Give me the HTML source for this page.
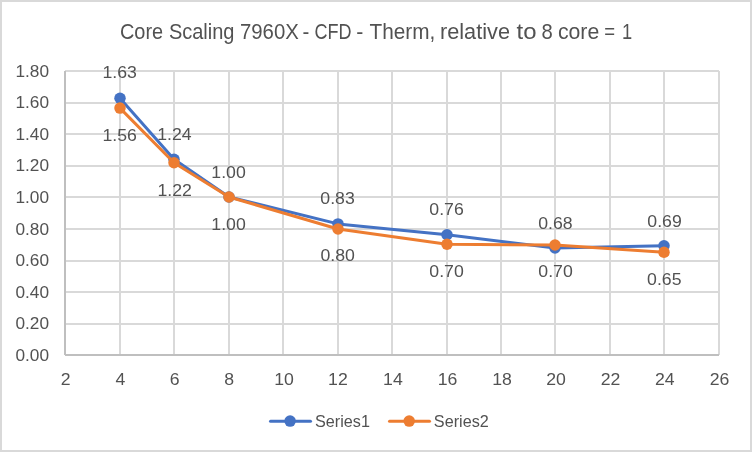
<!DOCTYPE html>
<html lang="en"><head><meta charset="utf-8"><title>Core Scaling 7960X - CFD - Therm</title>
<style>
html,body{margin:0;padding:0;background:#fff;}
body{width:752px;height:452px;overflow:hidden;}
svg{display:block;position:absolute;left:0;top:0;}
text{font-family:"Liberation Sans",sans-serif;fill:#525252;font-kerning:none;white-space:pre;}
</style></head><body>
<svg width="752" height="452" viewBox="0 0 752 452">
<rect x="0" y="0" width="752" height="452" fill="#ffffff"/>
<rect x="1" y="1" width="750" height="450" fill="none" stroke="#d9d9d9" stroke-width="2"/>
<g stroke="#d9d9d9" stroke-width="2" fill="none">
<line x1="65" y1="324" x2="719" y2="324"/>
<line x1="65" y1="292" x2="719" y2="292"/>
<line x1="65" y1="261" x2="719" y2="261"/>
<line x1="65" y1="229" x2="719" y2="229"/>
<line x1="65" y1="197" x2="719" y2="197"/>
<line x1="65" y1="166" x2="719" y2="166"/>
<line x1="65" y1="134" x2="719" y2="134"/>
<line x1="65" y1="103" x2="719" y2="103"/>
<line x1="65" y1="71" x2="719" y2="71"/>
<line x1="120" y1="71" x2="120" y2="355"/>
<line x1="174" y1="71" x2="174" y2="355"/>
<line x1="229" y1="71" x2="229" y2="355"/>
<line x1="283" y1="71" x2="283" y2="355"/>
<line x1="338" y1="71" x2="338" y2="355"/>
<line x1="392" y1="71" x2="392" y2="355"/>
<line x1="447" y1="71" x2="447" y2="355"/>
<line x1="501" y1="71" x2="501" y2="355"/>
<line x1="555" y1="71" x2="555" y2="355"/>
<line x1="610" y1="71" x2="610" y2="355"/>
<line x1="664" y1="71" x2="664" y2="355"/>
<line x1="719" y1="71" x2="719" y2="355"/>
</g>
<g stroke="#bfbfbf" stroke-width="2" fill="none">
<line x1="65" y1="71" x2="65" y2="355"/>
<line x1="65" y1="355" x2="719" y2="355"/>
</g>
<polyline points="120,98.2 174,159.2 229,197 338,223.9 447,234.8 555,248.0 664,245.8" fill="none" stroke="#4472c4" stroke-width="3" stroke-linecap="round" stroke-linejoin="round"/>
<circle cx="120" cy="98.2" r="5.75" fill="#4472c4"/>
<circle cx="174" cy="159.2" r="5.75" fill="#4472c4"/>
<circle cx="229" cy="197" r="5.75" fill="#4472c4"/>
<circle cx="338" cy="223.9" r="5.75" fill="#4472c4"/>
<circle cx="447" cy="234.8" r="5.75" fill="#4472c4"/>
<circle cx="555" cy="248.0" r="5.75" fill="#4472c4"/>
<circle cx="664" cy="245.8" r="5.75" fill="#4472c4"/>
<polyline points="120,108.1 174,162.7 229,197 338,229.0 447,244.3 555,245.0 664,252.3" fill="none" stroke="#ed7d31" stroke-width="3" stroke-linecap="round" stroke-linejoin="round"/>
<circle cx="120" cy="108.1" r="5.75" fill="#ed7d31"/>
<circle cx="174" cy="162.7" r="5.75" fill="#ed7d31"/>
<circle cx="229" cy="197" r="5.75" fill="#ed7d31"/>
<circle cx="338" cy="229.0" r="5.75" fill="#ed7d31"/>
<circle cx="447" cy="244.3" r="5.75" fill="#ed7d31"/>
<circle cx="555" cy="245.0" r="5.75" fill="#ed7d31"/>
<circle cx="664" cy="252.3" r="5.75" fill="#ed7d31"/>
<g>
<text x="119.99" y="38.50" font-size="21.3" textLength="43.20" lengthAdjust="spacingAndGlyphs">Core</text>
<text x="168.89" y="38.50" font-size="21.3" textLength="65.60" lengthAdjust="spacingAndGlyphs">Scaling</text>
<text x="239.96" y="38.50" font-size="21.3" textLength="58.87" lengthAdjust="spacingAndGlyphs">7960X</text>
<text x="302.49" y="38.50" font-size="21.3" textLength="6.82" lengthAdjust="spacingAndGlyphs">-</text>
<text x="314.48" y="38.50" font-size="21.3" textLength="37.08" lengthAdjust="spacingAndGlyphs">CFD</text>
<text x="356.35" y="38.50" font-size="21.3" textLength="7.09" lengthAdjust="spacingAndGlyphs">-</text>
<text x="369.53" y="38.50" font-size="21.3" textLength="65.73" lengthAdjust="spacingAndGlyphs">Therm,</text>
<text x="439.96" y="38.50" font-size="21.3" textLength="70.01" lengthAdjust="spacingAndGlyphs">relative</text>
<text x="516.54" y="38.50" font-size="21.3" textLength="19.97" lengthAdjust="spacingAndGlyphs">to</text>
<text x="541.42" y="38.50" font-size="21.3" textLength="11.26" lengthAdjust="spacingAndGlyphs">8</text>
<text x="557.90" y="38.50" font-size="21.3" textLength="41.35" lengthAdjust="spacingAndGlyphs">core</text>
<text x="604.20" y="38.50" font-size="21.3" textLength="10.82" lengthAdjust="spacingAndGlyphs">=</text>
<text x="621.90" y="38.50" font-size="21.3" textLength="10.19" lengthAdjust="spacingAndGlyphs">1</text>
</g>
<g>
<text x="15.49" y="361.00" font-size="17" textLength="33.58" lengthAdjust="spacingAndGlyphs">0.00</text>
<text x="15.49" y="329.00" font-size="17" textLength="33.58" lengthAdjust="spacingAndGlyphs">0.20</text>
<text x="15.49" y="298.00" font-size="17" textLength="33.58" lengthAdjust="spacingAndGlyphs">0.40</text>
<text x="15.49" y="266.00" font-size="17" textLength="33.58" lengthAdjust="spacingAndGlyphs">0.60</text>
<text x="15.49" y="235.00" font-size="17" textLength="33.58" lengthAdjust="spacingAndGlyphs">0.80</text>
<text x="15.49" y="203.00" font-size="17" textLength="33.58" lengthAdjust="spacingAndGlyphs">1.00</text>
<text x="15.49" y="171.00" font-size="17" textLength="33.58" lengthAdjust="spacingAndGlyphs">1.20</text>
<text x="15.49" y="140.00" font-size="17" textLength="33.58" lengthAdjust="spacingAndGlyphs">1.40</text>
<text x="15.49" y="108.00" font-size="17" textLength="33.58" lengthAdjust="spacingAndGlyphs">1.60</text>
<text x="15.49" y="77.00" font-size="17" textLength="33.58" lengthAdjust="spacingAndGlyphs">1.80</text>
</g>
<g>
<text x="60.88" y="385.00" font-size="17" textLength="9.83" lengthAdjust="spacingAndGlyphs">2</text>
<text x="115.42" y="385.00" font-size="17" textLength="9.83" lengthAdjust="spacingAndGlyphs">4</text>
<text x="169.78" y="385.00" font-size="17" textLength="9.83" lengthAdjust="spacingAndGlyphs">6</text>
<text x="224.32" y="385.00" font-size="17" textLength="9.83" lengthAdjust="spacingAndGlyphs">8</text>
<text x="274.26" y="385.00" font-size="17" textLength="19.67" lengthAdjust="spacingAndGlyphs">10</text>
<text x="328.14" y="385.00" font-size="17" textLength="19.67" lengthAdjust="spacingAndGlyphs">12</text>
<text x="383.13" y="385.00" font-size="17" textLength="19.67" lengthAdjust="spacingAndGlyphs">14</text>
<text x="437.74" y="385.00" font-size="17" textLength="19.67" lengthAdjust="spacingAndGlyphs">16</text>
<text x="492.22" y="385.00" font-size="17" textLength="19.67" lengthAdjust="spacingAndGlyphs">18</text>
<text x="546.19" y="385.00" font-size="17" textLength="19.67" lengthAdjust="spacingAndGlyphs">20</text>
<text x="600.77" y="385.00" font-size="17" textLength="19.67" lengthAdjust="spacingAndGlyphs">22</text>
<text x="655.06" y="385.00" font-size="17" textLength="19.67" lengthAdjust="spacingAndGlyphs">24</text>
<text x="709.67" y="385.00" font-size="17" textLength="19.67" lengthAdjust="spacingAndGlyphs">26</text>
</g>
<g>
<text x="102.46" y="78.00" font-size="17" textLength="34.41" lengthAdjust="spacingAndGlyphs">1.63</text>
<text x="157.28" y="140.00" font-size="17" textLength="34.41" lengthAdjust="spacingAndGlyphs">1.24</text>
<text x="211.37" y="178.00" font-size="17" textLength="34.41" lengthAdjust="spacingAndGlyphs">1.00</text>
<text x="320.39" y="204.00" font-size="17" textLength="34.41" lengthAdjust="spacingAndGlyphs">0.83</text>
<text x="429.34" y="215.00" font-size="17" textLength="34.41" lengthAdjust="spacingAndGlyphs">0.76</text>
<text x="538.23" y="229.00" font-size="17" textLength="34.41" lengthAdjust="spacingAndGlyphs">0.68</text>
<text x="647.37" y="227.00" font-size="17" textLength="34.41" lengthAdjust="spacingAndGlyphs">0.69</text>
<text x="102.41" y="141.00" font-size="17" textLength="34.41" lengthAdjust="spacingAndGlyphs">1.56</text>
<text x="157.47" y="196.00" font-size="17" textLength="34.41" lengthAdjust="spacingAndGlyphs">1.22</text>
<text x="211.37" y="230.00" font-size="17" textLength="34.41" lengthAdjust="spacingAndGlyphs">1.00</text>
<text x="320.49" y="261.00" font-size="17" textLength="34.41" lengthAdjust="spacingAndGlyphs">0.80</text>
<text x="429.39" y="277.00" font-size="17" textLength="34.41" lengthAdjust="spacingAndGlyphs">0.70</text>
<text x="538.34" y="277.00" font-size="17" textLength="34.41" lengthAdjust="spacingAndGlyphs">0.70</text>
<text x="647.12" y="285.00" font-size="17" textLength="34.41" lengthAdjust="spacingAndGlyphs">0.65</text>
</g>
<line x1="270.5" y1="421.3" x2="310.5" y2="421.3" stroke="#4472c4" stroke-width="3" stroke-linecap="round"/>
<circle cx="290.1" cy="421.1" r="5.75" fill="#4472c4"/>
<line x1="389.5" y1="421.3" x2="429.5" y2="421.3" stroke="#ed7d31" stroke-width="3" stroke-linecap="round"/>
<circle cx="409.2" cy="421.1" r="5.75" fill="#ed7d31"/>
<text x="315.06" y="426.70" font-size="17" textLength="54.93" lengthAdjust="spacingAndGlyphs">Series1</text>
<text x="433.86" y="426.70" font-size="17" textLength="54.95" lengthAdjust="spacingAndGlyphs">Series2</text>
</svg>
</body></html>
